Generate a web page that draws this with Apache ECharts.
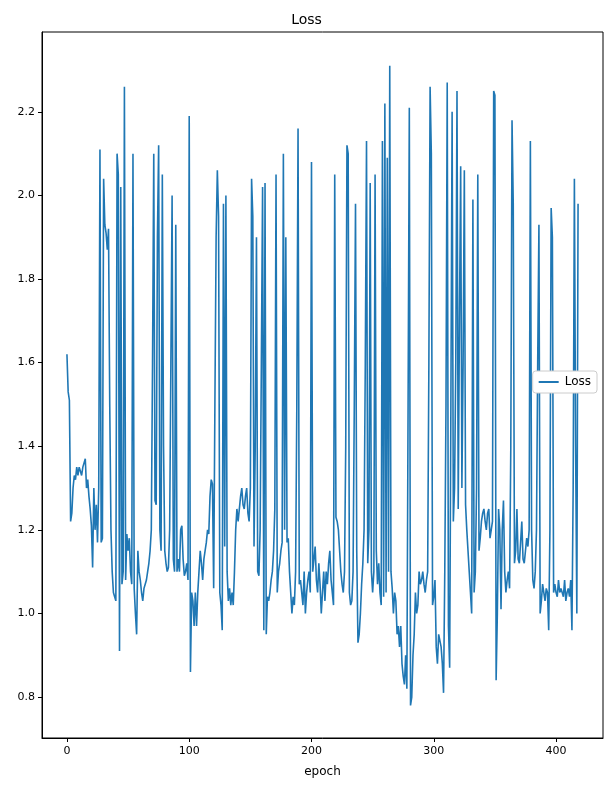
<!DOCTYPE html>
<html>
<head>
<meta charset="utf-8">
<script src="https://cdn.jsdelivr.net/npm/echarts@6/dist/echarts.min.js"></script>
<style>html,body{margin:0;padding:0;background:#fff}#main{width:613px;height:790px}</style>
</head>
<body>
<div id="main"></div>
<script>
var xTicks = [0, 100, 200, 300, 400];
var yTicks = [0.8, 1.0, 1.2, 1.4, 1.6, 1.8, 2.0, 2.2];
var loss = [
  1.62,1.53,1.51,1.22,1.24,1.30,1.33,1.32,1.35,1.33,
  1.35,1.34,1.33,1.35,1.36,1.37,1.30,1.32,1.28,1.25,
  1.21,1.11,1.30,1.20,1.26,1.17,1.30,2.11,1.17,1.18,
  2.04,1.93,1.91,1.87,1.92,1.50,1.20,1.10,1.05,1.04,
  1.03,2.10,2.05,0.91,2.02,1.07,1.10,2.26,1.08,1.19,
  1.15,1.18,1.10,1.07,2.10,1.06,1.00,0.95,1.15,1.10,
  1.08,1.05,1.03,1.06,1.07,1.08,1.10,1.12,1.15,1.20,
  1.60,2.10,1.27,1.26,1.90,2.12,1.20,1.15,2.05,1.40,
  1.15,1.12,1.10,1.11,1.20,1.60,2.00,1.13,1.10,1.93,
  1.10,1.13,1.10,1.20,1.21,1.13,1.09,1.10,1.12,1.08,
  2.19,0.86,1.05,1.03,0.97,1.05,0.97,1.05,1.10,1.15,
  1.12,1.08,1.13,1.15,1.17,1.20,1.19,1.28,1.32,1.31,
  1.06,1.50,1.90,2.06,1.95,1.05,1.02,0.96,1.98,1.16,
  2.00,1.10,1.03,1.06,1.02,1.05,1.02,1.10,1.20,1.25,
  1.22,1.25,1.28,1.30,1.26,1.25,1.28,1.30,1.24,1.22,
  1.30,2.04,1.95,1.16,1.40,1.90,1.10,1.09,1.20,1.60,
  2.02,0.96,2.03,0.95,1.04,1.03,1.05,1.08,1.10,1.15,
  1.25,2.05,1.05,1.10,1.12,1.15,1.17,2.10,1.20,1.90,
  1.17,1.18,1.10,1.05,1.00,1.04,1.02,1.10,1.50,2.16,
  1.07,1.08,1.05,1.02,1.10,1.00,1.05,1.08,1.10,1.05,
  2.08,1.10,1.10,1.16,1.08,1.05,1.12,1.07,1.00,1.05,
  1.10,1.03,1.10,1.07,1.12,1.15,1.08,1.05,1.02,2.05,
  1.23,1.22,1.20,1.15,1.10,1.07,1.05,1.10,1.40,2.12,
  2.10,1.05,1.02,1.03,1.10,1.50,1.98,1.15,0.93,0.95,
  1.00,1.07,1.12,1.20,1.60,2.13,1.12,1.20,2.03,1.10,
  1.05,1.10,2.05,1.15,1.07,1.12,1.05,1.02,2.13,1.04,
  2.22,1.05,2.09,1.10,2.31,1.10,1.06,1.00,1.05,1.03,
  0.95,0.97,0.92,0.97,0.88,0.85,0.83,0.90,0.82,1.50,
  2.21,0.78,0.80,0.90,0.95,1.05,1.00,1.02,1.10,1.07,
  1.08,1.10,1.07,1.05,1.08,1.10,1.60,2.26,2.10,1.02,
  1.04,1.08,0.92,0.88,0.95,0.95,0.92,0.88,0.81,1.10,
  1.50,2.27,0.97,0.87,1.50,2.20,1.22,1.30,1.60,2.25,
  1.25,1.70,2.07,1.30,1.60,2.06,1.26,1.20,1.15,1.10,
  1.05,1.00,1.99,1.05,1.10,1.30,2.05,1.15,1.18,1.22,
  1.24,1.25,1.22,1.20,1.24,1.25,1.18,1.20,1.22,2.25,
  2.24,0.84,1.00,1.25,1.20,1.01,1.20,1.27,1.10,1.05,
  1.08,1.10,1.06,1.40,2.18,1.98,1.12,1.15,1.25,1.13,
  1.12,1.17,1.22,1.13,1.12,1.15,1.18,1.16,1.20,2.13,
  1.20,1.08,1.06,1.10,1.20,1.60,1.93,1.00,1.03,1.07,
  1.05,1.03,1.06,1.05,0.96,1.20,1.97,1.90,1.05,1.07,
  1.05,1.04,1.08,1.05,1.06,1.05,1.04,1.08,1.03,1.05,
  1.06,1.04,1.08,0.96,1.30,2.04,1.40,1.00,1.98
];

var chart = echarts.init(document.getElementById('main'));
var font = 'DejaVu Sans';
var option = {
  animation: false,
  textStyle: { fontFamily: font },
  title: {
    text: 'Loss', left: 'center', top: 8,
    textStyle: { fontSize: 14, fontWeight: 'normal', color: '#000', fontFamily: font }
  },
  legend: {
    data: ['Loss'], right: 16, top: 371, orient: 'vertical',
    icon: 'path://M0,0 L30,0 L30,3 L0,3 Z',
    itemWidth: 22, itemHeight: 2,
    backgroundColor: '#fff', borderColor: '#ccc', borderWidth: 1, borderRadius: 3,
    padding: [5, 6],
    textStyle: { fontSize: 12, color: '#000', fontFamily: font }
  },
  grid: {
    left: 42, right: 10, top: 32, bottom: 52,
    show: true, borderColor: '#000', borderWidth: 1, backgroundColor: 'transparent'
  },
  xAxis: {
    type: 'value', min: -20.4, max: 438.4,
    name: 'epoch', nameLocation: 'middle', nameGap: 28,
    nameTextStyle: { fontSize: 12, color: '#000', fontFamily: font },
    splitLine: { show: false },
    axisLine: { show: true, onZero: false, lineStyle: { color: '#000' } },
    axisTick: { show: true, length: 4, lineStyle: { color: '#000' }, customValues: xTicks },
    axisLabel: { fontSize: 11, color: '#000', customValues: xTicks, margin: 8 }
  },
  yAxis: {
    type: 'value', min: 0.702, max: 2.391,
    splitLine: { show: false },
    axisLine: { show: true, onZero: false, lineStyle: { color: '#000' } },
    axisTick: { show: true, length: 4, lineStyle: { color: '#000' }, customValues: yTicks },
    axisLabel: { fontSize: 11, color: '#000', customValues: yTicks, margin: 7,
      formatter: function (v) { return v.toFixed(1); } }
  },
  series: [{
    name: 'Loss', type: 'line', showSymbol: false,
    data: loss.map(function (v, i) { return [i, v]; }),
    lineStyle: { color: '#1f77b4', width: 1.6 },
    itemStyle: { color: '#1f77b4' }
  }]
};
chart.setOption(option);
</script>
</body>
</html>
